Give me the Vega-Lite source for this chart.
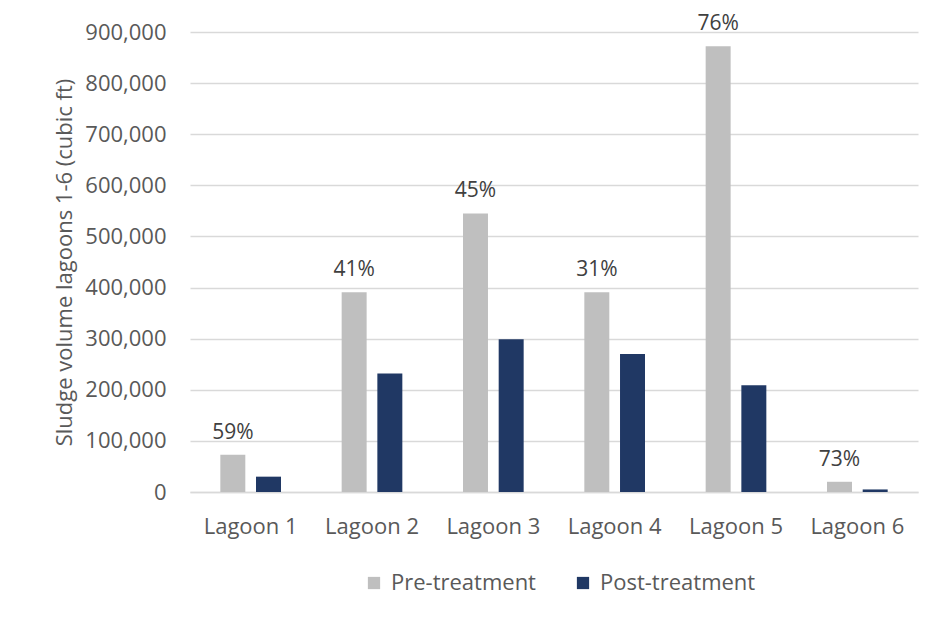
{
  "$schema": "https://vega.github.io/schema/vega-lite/v6.json",
  "width": 728,
  "height": 460,
  "autosize": {"type": "none"},
  "padding": {"left": 190, "top": 32, "right": 32, "bottom": 135},
  "background": "white",
  "view": {"stroke": null},
  "data": {
    "values": [
      {"lagoon": "Lagoon 1", "series": "Pre-treatment", "value": 73000, "label": "59%"},
      {"lagoon": "Lagoon 1", "series": "Post-treatment", "value": 30000},
      {"lagoon": "Lagoon 2", "series": "Pre-treatment", "value": 391000, "label": "41%"},
      {"lagoon": "Lagoon 2", "series": "Post-treatment", "value": 232000},
      {"lagoon": "Lagoon 3", "series": "Pre-treatment", "value": 545000, "label": "45%"},
      {"lagoon": "Lagoon 3", "series": "Post-treatment", "value": 299000},
      {"lagoon": "Lagoon 4", "series": "Pre-treatment", "value": 391000, "label": "31%"},
      {"lagoon": "Lagoon 4", "series": "Post-treatment", "value": 270000},
      {"lagoon": "Lagoon 5", "series": "Pre-treatment", "value": 872000, "label": "76%"},
      {"lagoon": "Lagoon 5", "series": "Post-treatment", "value": 209000},
      {"lagoon": "Lagoon 6", "series": "Pre-treatment", "value": 20000, "label": "73%"},
      {"lagoon": "Lagoon 6", "series": "Post-treatment", "value": 5000}
    ]
  },
  "encoding": {
    "x": {
      "field": "lagoon",
      "type": "nominal",
      "sort": null,
      "scale": {"paddingInner": 0.5, "paddingOuter": 0.25},
      "axis": {
        "title": null,
        "labelAngle": 0,
        "ticks": false,
        "domain": true,
        "domainColor": "#D9D9D9",
        "domainWidth": 1.5,
        "labelPadding": 24,
        "labelFont": "Open Sans",
        "labelFontSize": 22,
        "labelColor": "#595959"
      }
    },
    "xOffset": {
      "field": "series",
      "sort": ["Pre-treatment", "Post-treatment"],
      "scale": {"paddingInner": 0.3}
    },
    "y": {
      "field": "value",
      "type": "quantitative",
      "scale": {"domain": [0, 900000]},
      "axis": {
        "title": "Sludge volume lagoons 1-6 (cubic ft)",
        "titleFont": "Open Sans",
        "titleFontSize": 22,
        "titleFontWeight": "normal",
        "titleColor": "#595959",
        "titlePadding": 8,
        "values": [0, 100000, 200000, 300000, 400000, 500000, 600000, 700000, 800000, 900000],
        "labelExpr": "format(datum.value, ',.0f')",
        "grid": true,
        "gridColor": "#D9D9D9",
        "gridWidth": 1.5,
        "domain": false,
        "ticks": false,
        "labelPadding": 24,
        "labelFont": "Open Sans",
        "labelFontSize": 22,
        "labelColor": "#595959"
      }
    }
  },
  "layer": [
    {
      "mark": {"type": "bar"},
      "encoding": {
        "color": {
          "field": "series",
          "type": "nominal",
          "scale": {
            "domain": ["Pre-treatment", "Post-treatment"],
            "range": ["#BFBFBF", "#203864"]
          },
          "legend": {
            "title": null,
            "orient": "none",
            "direction": "horizontal",
            "legendX": 173,
            "legendY": 540,
            "symbolType": "square",
            "symbolSize": 150,
            "symbolStrokeWidth": 0,
            "labelFont": "Open Sans",
            "labelFontSize": 22,
            "labelColor": "#595959",
            "labelOffset": 6,
            "columnPadding": 36
          }
        }
      }
    },
    {
      "transform": [{"filter": "isValid(datum.label)"}],
      "mark": {
        "type": "text",
        "baseline": "bottom",
        "dy": -12,
        "font": "Open Sans",
        "fontSize": 21,
        "color": "#404040"
      },
      "encoding": {
        "text": {"field": "label"}
      }
    }
  ]
}
